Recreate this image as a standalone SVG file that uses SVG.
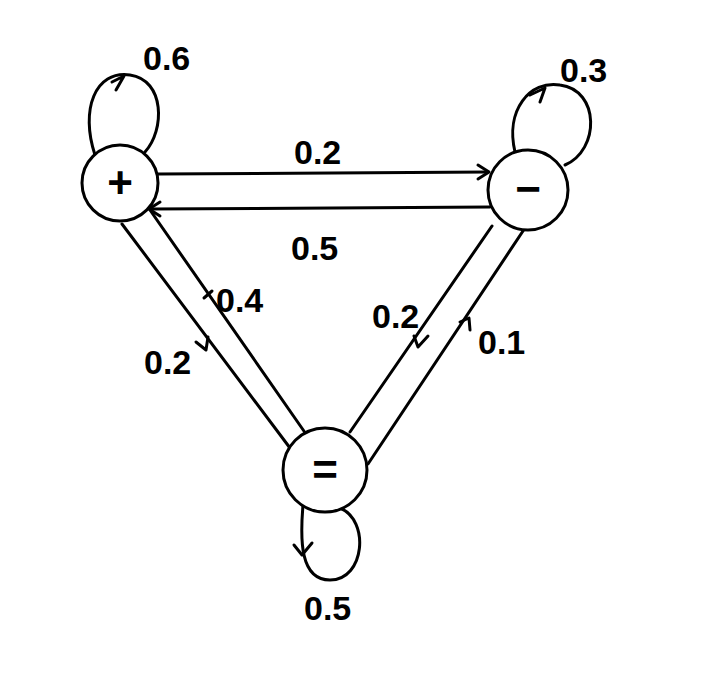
<svg xmlns="http://www.w3.org/2000/svg" width="720" height="680" viewBox="0 0 720 680">
<style>
.n{fill:#fff;stroke:#000;stroke-width:3}
.e{fill:none;stroke:#000;stroke-width:3;stroke-linecap:round;stroke-linejoin:round}
text{font-family:"Liberation Sans",sans-serif;font-size:34px;font-weight:bold;fill:#000}
.s{font-size:44px;text-anchor:middle}
</style>
<rect width="720" height="680" fill="#fff"/>
<g id="connectors">
<path class="e" d="M158,174 L488,172"/><path class="e" d="M478,165 L489,172 L478,179"/>
<path class="e" d="M490,207 L150,209"/><path class="e" d="M160,202 L149,209 L160,216"/>
<path class="e" d="M150,210 L306,434"/><path class="e" d="M122,224 L290,448"/>
<path class="e" d="M204,298 L212,291"/><path class="e" d="M196,342 L206,350 L208,337"/>
<path class="e" d="M492,226 L350,432"/><path class="e" d="M525,228 L368,464"/>
<path class="e" d="M414,336 L418,347 L428,336"/><path class="e" d="M460,322 L469,318 L470,330"/>
<path class="e" d="M95,155 C80,110 95,70 130,75 C165,80 165,130 145,152"/><path class="e" d="M112,82 L124,76 L116,90"/>
<path class="e" d="M515,152 C505,110 530,80 560,85 C600,90 600,150 565,165"/><path class="e" d="M530,95 L545,88 L540,102"/>
<path class="e" d="M340,508 C370,520 365,580 330,580 C300,580 300,540 303,505"/><path class="e" d="M294,545 L302,555 L312,543"/>
</g>
<g id="plus"><circle class="n" cx="120" cy="183" r="38"/><text class="s" x="120" y="198">+</text></g>
<g id="minus"><circle class="n" cx="528" cy="190" r="40"/><text class="s" x="528" y="204">−</text></g>
<g id="eq"><circle class="n" cx="325" cy="470" r="42"/><text class="s" x="325" y="485">=</text></g>
<g id="labels">
<text x="143" y="70">0.6</text>
<text x="560" y="82">0.3</text>
<text x="294" y="164">0.2</text>
<text x="291" y="260">0.5</text>
<text x="216" y="312">0.4</text>
<text x="144" y="374">0.2</text>
<text x="372" y="328">0.2</text>
<text x="478" y="354">0.1</text>
<text x="304" y="620">0.5</text>
</g>
</svg>
